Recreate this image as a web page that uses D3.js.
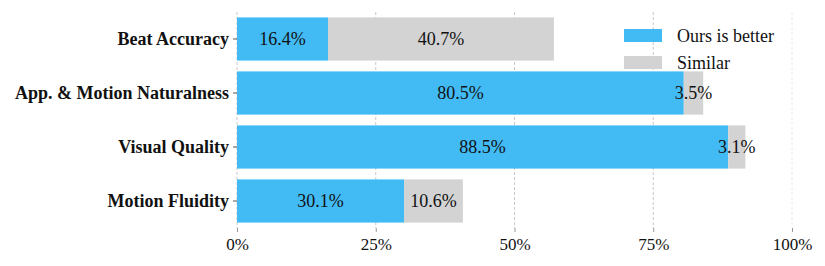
<!DOCTYPE html>
<html>
<head>
<meta charset="utf-8">
<script src="https://cdn.jsdelivr.net/npm/d3@7"></script>
<style>
  body { margin: 0; background: #fff; }
</style>
</head>
<body>
<div id="chart"></div>
<script>
// data
const categories = ["Beat Accuracy", "App. & Motion Naturalness", "Visual Quality", "Motion Fluidity"];
const oursBetter = [16.4, 80.5, 88.5, 30.1];
const similar = [40.7, 3.5, 3.1, 10.6];
const seriesNames = ["Ours is better", "Similar"];
const xTicks = [0, 25, 50, 75, 100];

const colors = ["#42BBF5", "#D3D3D3"];
const serif = "'Liberation Serif', 'Times New Roman', serif";

const width = 825, height = 266;
const margin = { top: 12, right: 33, bottom: 38, left: 237 };
const innerW = width - margin.left - margin.right;
const innerH = height - margin.top - margin.bottom;

const svg = d3.select("#chart").append("svg")
  .attr("width", width)
  .attr("height", height)
  .style("font-family", serif);

const g = svg.append("g")
  .attr("transform", `translate(${margin.left},${margin.top})`);

const xScale = d3.scaleLinear().domain([0, 100]).range([0, innerW]);
const yScale = d3.scaleBand().domain(categories).range([0, innerH]).paddingInner(0.2).paddingOuter(0.1);

// gridlines
g.selectAll(".grid")
  .data(xTicks)
  .enter().append("line")
  .attr("class", "grid")
  .attr("x1", d => xScale(d)).attr("x2", d => xScale(d))
  .attr("y1", 0).attr("y2", innerH)
  .attr("stroke", d => d === 100 ? "#e4e4e4" : "#bbbbbb")
  .attr("stroke-width", 0.8)
  .attr("stroke-dasharray", "3,2");

// stacked rows
const rows = categories.map((c, i) => ({ cat: c, vals: [oursBetter[i], similar[i]] }));
rows.forEach(r => {
  let start = 0;
  r.vals.forEach((v, k) => {
    g.append("rect")
      .attr("x", xScale(start))
      .attr("y", yScale(r.cat))
      .attr("width", xScale(start + v) - xScale(start))
      .attr("height", yScale.bandwidth())
      .attr("fill", colors[k]);
    g.append("text")
      .attr("x", xScale(start + v / 2))
      .attr("y", yScale(r.cat) + yScale.bandwidth() / 2)
      .attr("dy", "0.35em")
      .attr("text-anchor", "middle")
      .attr("font-family", serif)
      .attr("font-size", "18px")
      .attr("fill", "#111")
      .text(v.toFixed(1) + "%");
    start += v;
  });
});

// y axis
const yAxis = g.append("g")
  .call(d3.axisLeft(yScale).tickSize(4).tickPadding(4));
yAxis.select(".domain").remove();
yAxis.selectAll(".tick line").attr("stroke", "#555");
yAxis.selectAll("text")
  .attr("font-size", "18px")
  .attr("font-weight", "bold")
  .attr("font-family", serif)
  .attr("fill", "#111");

// x axis
const xAxis = g.append("g")
  .attr("transform", `translate(0,${innerH})`)
  .call(d3.axisBottom(xScale).tickValues(xTicks).tickFormat(d => d + "%").tickSize(4).tickPadding(6));
xAxis.select(".domain").remove();
xAxis.selectAll(".tick line").attr("stroke", "#999");
xAxis.selectAll("text")
  .attr("font-size", "17px")
  .attr("font-family", serif)
  .attr("fill", "#111");

// legend
const legend = svg.append("g").attr("transform", "translate(624,29)");
seriesNames.forEach((name, i) => {
  legend.append("rect")
    .attr("x", 0).attr("y", i * 27)
    .attr("width", 38).attr("height", 13)
    .attr("fill", colors[i]);
  legend.append("text")
    .attr("x", 53).attr("y", i * 27 + 6.5)
    .attr("dy", "0.35em")
    .attr("font-family", serif)
    .attr("font-size", "18px")
    .attr("fill", "#111")
    .text(name);
});
</script>
</body>
</html>
